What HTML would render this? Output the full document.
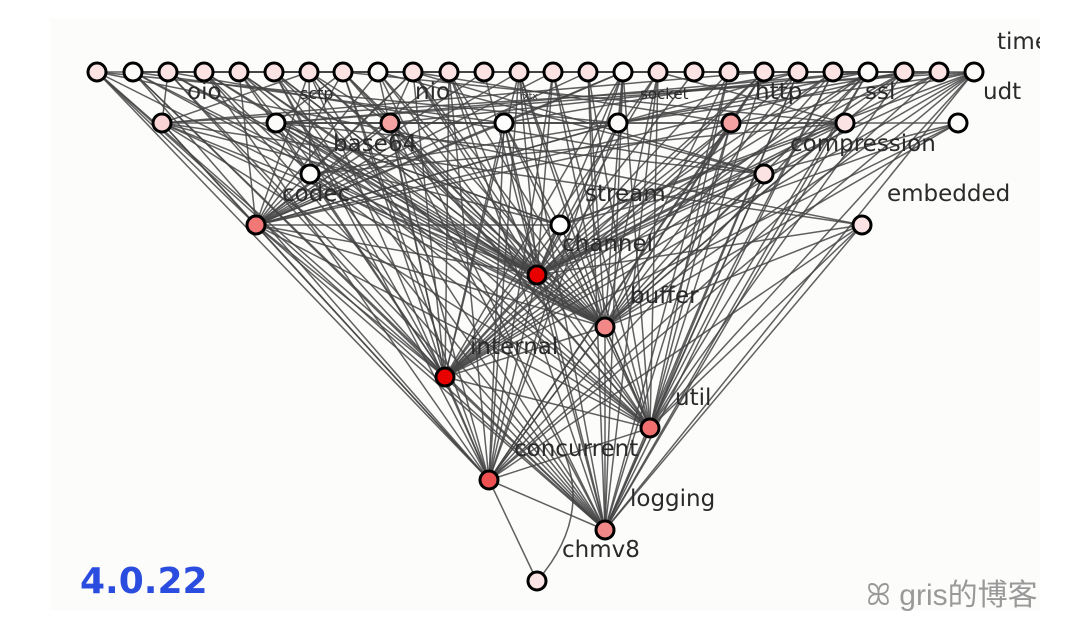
<!DOCTYPE html>
<html><head><meta charset="utf-8"><style>
html,body{margin:0;padding:0;background:#fff;width:1080px;height:639px;overflow:hidden}
#p{position:absolute;left:50px;top:18px;width:990px;height:592px;background:#fcfcfb;overflow:hidden}
svg{position:absolute;left:-50px;top:-18px}
.l{font-family:"DejaVu Sans","Liberation Sans",sans-serif;font-size:23px;fill:#2a2a2a}
.v{position:absolute;left:80px;top:561px;font:bold 36px "DejaVu Sans","Liberation Sans",sans-serif;color:#2a4de0}
.w{position:absolute;left:866px;top:570px;font:30px "Liberation Sans","Noto Sans CJK SC",sans-serif;color:#999}
</style></head><body>
<div id="p"><svg id="s" width="1080" height="639" xmlns="http://www.w3.org/2000/svg"><g id="e" stroke="#444" stroke-width="1.5" stroke-opacity="0.85" fill="none"></g><g id="n" stroke="#000" stroke-width="3"></g>
<g class="l">
<text x="187" y="99">oio</text><text x="300" y="99" font-size="16">sctp</text><text x="415" y="99">nio</text>
<text x="520" y="99" font-size="9">rxtx</text><text x="640" y="99" font-size="15">socket</text><text x="755" y="99">http</text>
<text x="865" y="99">ssl</text><text x="983" y="99">udt</text><text x="997" y="49">time</text>
<text x="333" y="151">base64</text><text x="790" y="151">compression</text><text x="282" y="201">codec</text>
<text x="585" y="201">stream</text><text x="887" y="201">embedded</text><text x="562" y="251">channel</text>
<text x="630" y="303">buffer</text><text x="470" y="354">internal</text><text x="675" y="405">util</text>
<text x="514" y="456">concurrent</text><text x="630" y="506">logging</text><text x="562" y="557">chmv8</text>
</g></svg></div>
<div class="v">4.0.22</div>
<div class="w">ꕤ gris的博客</div>
<script>
var Lc="#fbe3e3",Wc="#fdfafa",Pc="#f4a2a2";
var topX=[97,133,168,204,239,274,309,343,378,413,449,484,519,553,588,623,658,694,729,764,798,833,868,904,939,974];
var N=[];
topX.forEach(function(x,i){N.push([x,72,(i%7==1||i==25)?Wc:(i==8?"#f8cccc":Lc)])});
[[162,123,"#f8d4d4"],[276,123,Wc],[390,123,Pc],[504,123,"#fff"],[618,123,Wc],[731,123,Pc],[845,123,Lc],[958,123,Wc],[310,174,Wc],[764,174,Lc],[560,225,"#fff"],[862,225,Lc]].forEach(function(a){N.push(a)});
var H=[[256,225,"#f27777"],[537,275,"#e80000"],[605,327,"#f28888"],[445,377,"#e80000"],[650,428,"#f07070"],[489,480,"#ec5050"],[605,530,"#f28888"]];
var E=document.getElementById("e"),G=document.getElementById("n"),ns="http://www.w3.org/2000/svg";
var seed=7;function rnd(){seed=(seed*16807)%2147483647;return seed/2147483647}
function ln(a,b){var l=document.createElementNS(ns,"line");l.setAttribute("x1",a[0]);l.setAttribute("y1",a[1]);l.setAttribute("x2",b[0]);l.setAttribute("y2",b[1]);E.appendChild(l)}
N.forEach(function(a){H.forEach(function(h,hi){if(rnd()<(hi==1||hi==2?0.85:0.65))ln(a,h)});if(rnd()<0.6)ln(a,N[Math.floor(rnd()*N.length)])});
for(var i=0;i<H.length;i++)for(var j=i+1;j<H.length;j++)ln(H[i],H[j]);
for(var k=0;k<70;k++)ln(N[Math.floor(rnd()*N.length)],N[Math.floor(rnd()*N.length)]);
var c=[537,581,Lc];ln(c,H[5]);var p=document.createElementNS(ns,"path");p.setAttribute("d","M537 581 Q590 520 565 455");E.appendChild(p);
N.concat(H,[c]).forEach(function(a){var o=document.createElementNS(ns,"circle");o.setAttribute("cx",a[0]);o.setAttribute("cy",a[1]);o.setAttribute("r",9);o.setAttribute("fill",a[2]);G.appendChild(o)});
</script>
</body></html>
